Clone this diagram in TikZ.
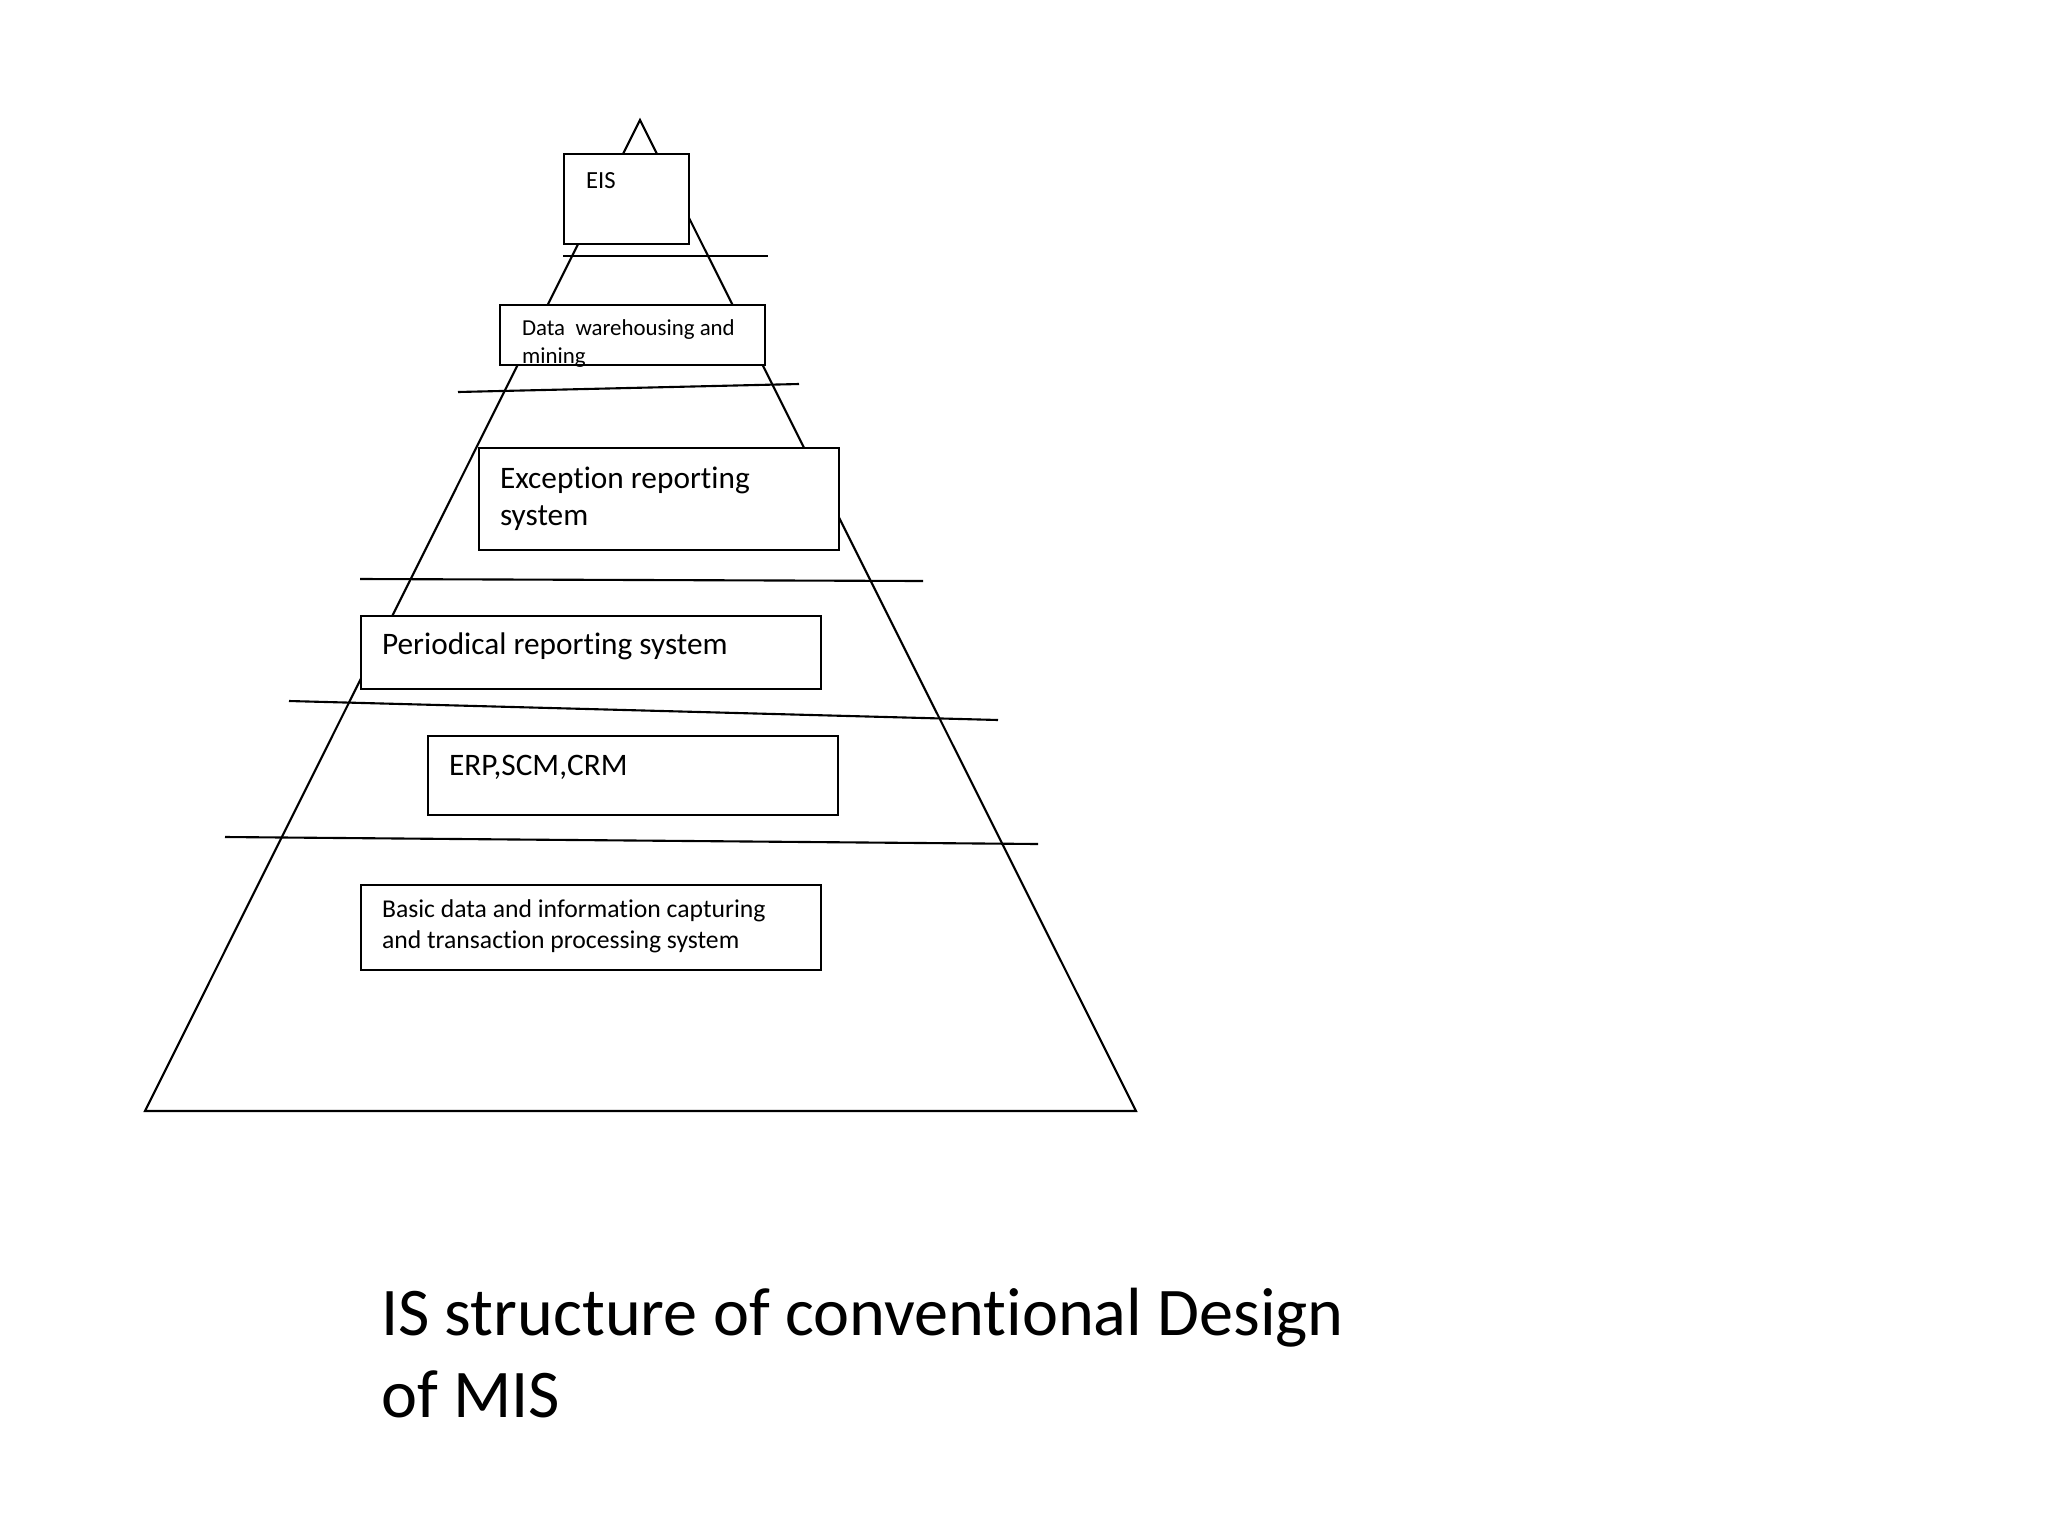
\documentclass[tikz,border=0pt]{standalone}
\usepackage{fontspec}
\setmainfont[Ligatures=NoCommon]{Carlito}
\begin{document}
\begin{tikzpicture}[x=0.01cm,y=-0.01cm,line width=0.6pt,
  layer/.style={draw,fill=white,anchor=north west,inner sep=0pt},
  lbl/.style={anchor=base west,inner sep=0pt,align=left}]
\useasboundingbox (0,0) rectangle (2048,1536);
% pyramid
\coordinate(apex) at (640,120);
\coordinate(baseL) at (145,1111);
\coordinate(baseR) at (1136,1111);
\draw (apex) -- (baseL) -- (baseR) -- cycle;
% layers
\node(eis) at (563,153)[layer,minimum width=12.5mm,minimum height=9mm]{};
\node(dw) at (499,304)[layer,minimum width=26.5mm,minimum height=6mm]{};
\node(exc) at (478,447)[layer,minimum width=36mm,minimum height=10.2mm]{};
\node(per) at (360,615)[layer,minimum width=46mm,minimum height=7.3mm]{};
\node(erp) at (427,735)[layer,minimum width=41mm,minimum height=7.9mm]{};
\node(tps) at (360,884)[layer,minimum width=46mm,minimum height=8.5mm]{};
% texts (base = last line)
\node(eistext) at (585,188)[lbl,font=\fontsize{7}{8.4}\selectfont]{EIS};
\node(dwtext) at (521,363)[lbl,font=\fontsize{6.5}{7.7}\selectfont]{Data\ \ warehousing and\\mining};
\node(exctext) at (499,525)[lbl,font=\fontsize{8.9}{10.5}\selectfont]{Exception reporting\\system};
\node(pertext) at (381,654)[lbl,font=\fontsize{8.9}{10.5}\selectfont]{Periodical reporting system};
\node(erptext) at (448,775)[lbl,font=\fontsize{8.9}{10.5}\selectfont]{ERP,SCM,CRM};
\node(tpstext) at (381,948)[lbl,font=\fontsize{7.3}{8.8}\selectfont]{Basic data and information capturing\\and transaction processing system};
% dividing lines
\draw (563,256) -- (768,256);
\draw (458,392) -- (799,384);
\draw (360,579) -- (923,581);
\draw (289,701) -- (998,720);
\draw (225,837) -- (1038,844);
% caption
\node(title) at (380,1417)[lbl,font=\fontsize{19.4}{23.3}\selectfont]{IS structure of conventional Design\\of MIS};
\end{tikzpicture}
\end{document}
